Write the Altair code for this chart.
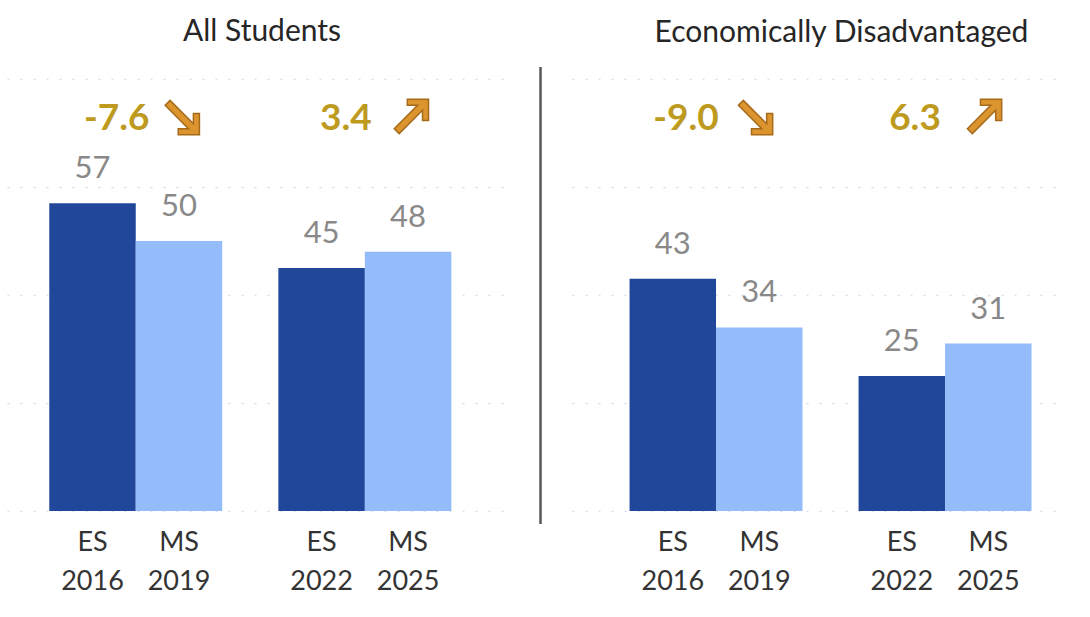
import altair as alt
import pandas as pd

# ---------------- data ----------------
panel_titles = ["All Students", "Economically Disadvantaged"]
pairs = ["P1", "P1", "P2", "P2"]
levels = ["ES", "MS", "ES", "MS"]
years = ["2016", "2019", "2022", "2025"]
all_students = [57, 50, 45, 48]
econ_disadv = [43, 34, 25, 31]

change_pairs = ["P1", "P2"]
change_all = [-7.6, 3.4]
change_econ = [-9.0, 6.3]

grid_values = [0, 20, 40, 60, 80]

# ---------------- styles ----------------
FONT = "Lato"
DARK = "#21479A"
LIGHT = "#94BCFB"
GOLD = "#BE9A1E"
ARROW_FILL = "#DB942E"
ARROW_STROKE = "#A66B1A"

ARROW_DOWN = ("M1,1 L-0.2,1 L-0.2,0.66 L0.38,0.66 L-0.94,-0.66 L-0.66,-0.94 "
              "L0.66,0.38 L0.66,-0.2 L1,-0.2 Z")
ARROW_UP = ("M1,-1 L-0.2,-1 L-0.2,-0.66 L0.38,-0.66 L-0.94,0.66 L-0.66,0.94 "
            "L0.66,-0.38 L0.66,0.2 L1,0.2 Z")

H = 432


def panel(title, values, changes, width, pad_outer, align, title_dx,
          text_dx, arrow_dx, sep_x, sep_visible):
    df = pd.DataFrame({
        "pair": pairs,
        "level": levels,
        "year": years,
        "value": values,
        "label": [f"{l}\n{y}" for l, y in zip(levels, years)],
    })
    ann = pd.DataFrame({
        "pair": change_pairs,
        "change": changes,
        "text": [f"{c:.1f}" for c in changes],
        "direction": ["down" if c < 0 else "up" for c in changes],
    })

    xscale = alt.Scale(domain=["P1", "P2"], paddingInner=0.245,
                       paddingOuter=pad_outer, align=align)
    x = alt.X("pair:N", scale=xscale, axis=None)
    xo = alt.XOffset("level:N", scale=alt.Scale(domain=["ES", "MS"],
                                                paddingInner=0, paddingOuter=0))
    y = alt.Y("value:Q",
              scale=alt.Scale(domain=[0, 80], nice=False, zero=True),
              axis=alt.Axis(values=grid_values, grid=True, labels=False,
                            ticks=False, domain=False, title=None,
                            gridDash=[2, 11], gridColor="#d5deec",
                            gridWidth=1.5))

    base = alt.Chart(df)
    bars = base.mark_bar().encode(
        x=x, xOffset=xo, y=y,
        color=alt.Color("level:N", scale=alt.Scale(domain=["ES", "MS"],
                                                   range=[DARK, LIGHT]),
                        legend=None),
    )
    vals = base.mark_text(font=FONT, fontSize=31, color="#898989",
                          baseline="alphabetic", dy=-25).encode(
        x=x, xOffset=xo, y=y, text="value:Q")
    labels = base.mark_text(font=FONT, fontSize=27, color="#333333",
                            baseline="alphabetic", lineBreak="\n",
                            lineHeight=39).encode(
        x=x, xOffset=xo, y=alt.value(H + 40), text="label:N")

    ann_base = alt.Chart(ann)
    ann_text = ann_base.mark_text(font=FONT, fontSize=37, fontWeight="bold",
                                  color=GOLD, baseline="middle",
                                  dx=text_dx).encode(
        x=x, y=alt.value(40), text="text:N")
    ann_arrow = ann_base.mark_point(filled=True, size=1250, fill=ARROW_FILL,
                                    stroke=ARROW_STROKE, strokeWidth=1.5,
                                    opacity=1, xOffset=arrow_dx).encode(
        x=x, y=alt.value(38),
        shape=alt.Shape("direction:N",
                        scale=alt.Scale(domain=["down", "up"],
                                        range=[ARROW_DOWN, ARROW_UP]),
                        legend=None))

    # vertical separator (visible in one panel, invisible twin in the other
    # so both panel titles sit at the same height)
    sep = alt.Chart(ann).mark_rule(
        color="#595959", strokeWidth=2,
        strokeOpacity=1 if sep_visible else 0).encode(
        x=alt.value(sep_x), y=alt.value(-12), y2=alt.value(H + 13))

    layers = [bars, vals, labels, ann_text, ann_arrow, sep]

    return alt.layer(*layers).properties(
        width=width, height=H,
        title=alt.TitleParams(title, font=FONT, fontSize=30,
                              fontWeight="normal", color="#262626",
                              anchor="middle", dx=title_dx, offset=-5,
                              baseline="alphabetic"),
    )


left = panel(panel_titles[0], all_students, change_all, width=496,
             pad_outer=0.205, align=0.45, title_dx=7,
             text_dx=-19, arrow_dx=46, sep_x=496 + 37.5, sep_visible=True)
right = panel(panel_titles[1], econ_disadv, change_econ, width=491,
              pad_outer=0.1945, align=0.646, title_dx=24,
              text_dx=-30, arrow_dx=39, sep_x=245, sep_visible=False)

chart = alt.hconcat(left, right, spacing=69, bounds="flush").configure_view(
    stroke=None
).properties(
    padding={"left": 7, "top": 17, "right": 5, "bottom": 5}
)

chart.save("out.html", embed_options={"renderer": "svg", "actions": False})
